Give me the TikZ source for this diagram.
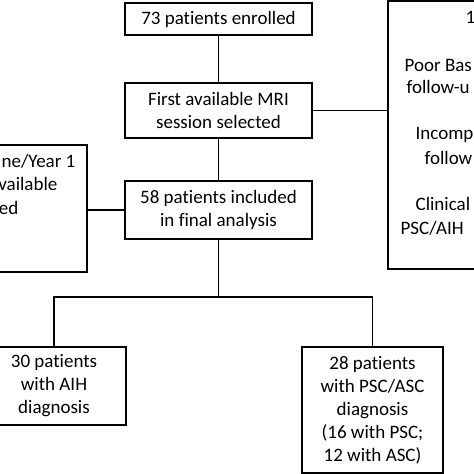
\documentclass[tikz,border=0pt]{standalone}
\usepackage{fontspec}
\setmainfont{Carlito}[Ligatures=NoCommon]
\usepackage{tikz}
\usetikzlibrary{positioning,calc}

\begin{document}
\begin{tikzpicture}[x=1pt, y=1pt, line width=1.3pt,
  box/.style={rectangle, draw, align=center, font=\fontsize{19}{23}\selectfont, inner sep=2pt},
  frag/.style={font=\fontsize{19}{23}\selectfont, inner sep=0pt}
]
\path[use as bounding box, clip] (0,0) rectangle (474,-474);
\fill[white] (0,0) rectangle (474,-474);

\node[box, minimum width=187pt, minimum height=32pt] (enrolled) at (218.5,-19) {73 patients enrolled};
\node[box, minimum width=187pt, minimum height=55pt] (mri) at (218.5,-110.5) {First available MRI\\session selected};
\node[box, minimum width=187pt, minimum height=58pt] (incl) at (218.5,-210) {58 patients included\\in final analysis};

% exclusion boxes, cut at the picture's edge
\node[box, minimum width=200pt, minimum height=127pt] (exclL) at (-13,-208.5) {};
\node[box, minimum width=200pt, minimum height=268pt] (exclR) at (488,-135) {};

\node[frag, anchor=east] (l1) at (76,-161) {ne/Year 1};
\node[frag, anchor=east] (l2) at (58,-184) {vailable};
\node[frag, anchor=east] (l3) at (19,-208) {ed};

\node[frag, anchor=west] (r0) at (465,-17) {1};
\node[frag, anchor=west] (r1) at (404,-65) {Poor Bas};
\node[frag, anchor=west] (r2) at (406,-87) {follow-u};
\node[frag, anchor=west] (r3) at (415,-135) {Incomp};
\node[frag, anchor=west] (r4) at (424,-158) {follow};
\node[frag, anchor=west] (r5) at (415,-204) {Clinical};
\node[frag, anchor=west] (r6) at (400,-228) {PSC/AIH};

\node[box, minimum width=144pt, minimum height=78pt] (aih) at (54,-386) {30 patients\\with AIH\\diagnosis};
\node[box, minimum width=141pt, minimum height=126pt] (psc) at (372.5,-410) {28 patients\\with PSC/ASC\\diagnosis\\(16 with PSC;\\12 with ASC)};

\coordinate (split) at (218.5,-297);

\draw (enrolled) -- (mri);
\draw (mri) -- (incl);
\draw (mri.east) -- (mri.east -| exclR.west);
\draw (incl.west) -- (incl.west -| exclL.east);
\draw (incl) -- (split);
\draw (aih.north) |- (split) -| (psc.north);
\end{tikzpicture}
\end{document}
